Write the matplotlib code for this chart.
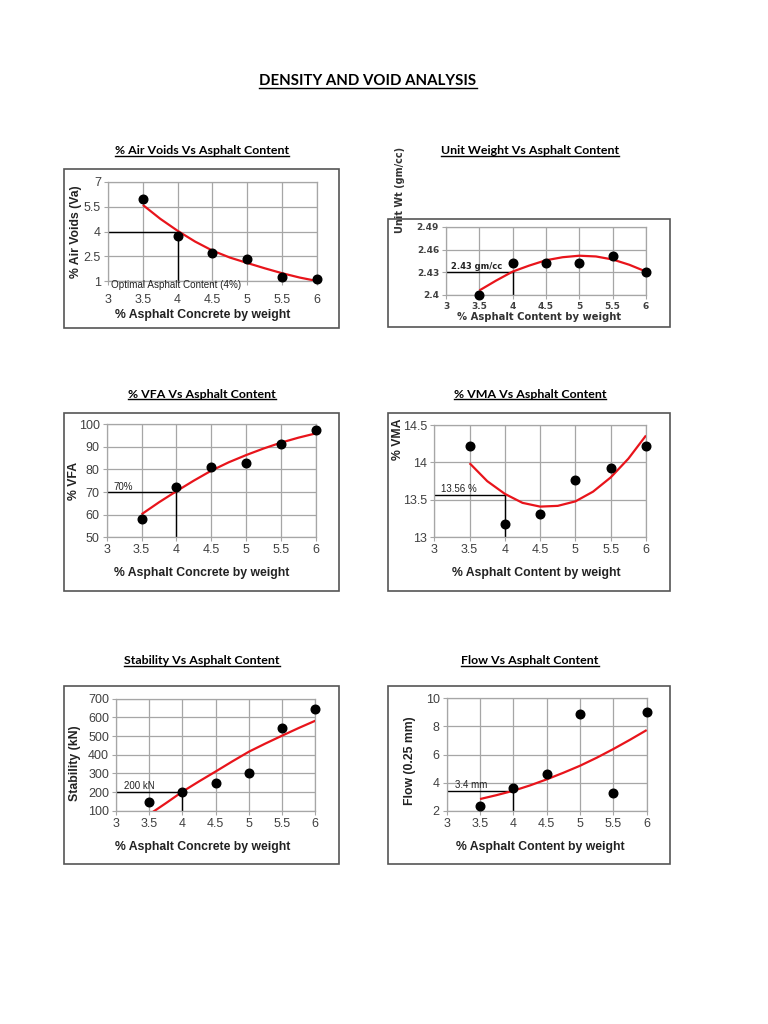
import numpy as np
import matplotlib
matplotlib.use("Agg")
import matplotlib.pyplot as plt
from matplotlib.patches import Rectangle
from matplotlib.lines import Line2D

# ---------------- data ----------------
asphalt = [3.5, 4.0, 4.5, 5.0, 5.5, 6.0]
curve_x = [3.5, 3.75, 4.0, 4.25, 4.5, 4.75, 5.0, 5.25, 5.5, 5.75, 6.0]

air_voids = [6.0, 3.7, 2.68, 2.33, 1.22, 1.1]
air_voids_fit = [5.61, 4.77, 4.04, 3.39, 2.84, 2.42, 2.09, 1.77, 1.47, 1.21, 1.00]

unit_wt = [2.400, 2.4425, 2.4425, 2.4425, 2.451, 2.430]
unit_wt_fit = [2.406, 2.419, 2.431, 2.439, 2.446, 2.450, 2.452, 2.451, 2.447, 2.440, 2.431]

vfa = [58.1, 72.1, 81.3, 83.0, 91.3, 97.3]
vfa_fit = [60.2, 65.5, 70.4, 75.1, 79.5, 83.2, 86.4, 89.3, 91.9, 94.1, 96.0]

vma = [14.22, 13.18, 13.31, 13.76, 13.93, 14.22]
vma_fit = [13.99, 13.75, 13.58, 13.46, 13.41, 13.42, 13.48, 13.61, 13.80, 14.05, 14.36]

stability = [148, 202, 250, 300, 541, 646]
stability_fit = [80, 140, 202, 257, 310, 364, 416, 460, 502, 543, 582]

flow = [2.36, 3.64, 4.61, 8.91, 3.28, 9.03]
flow_fit = [2.83, 3.11, 3.42, 3.80, 4.23, 4.70, 5.20, 5.77, 6.39, 7.05, 7.74]

x_ticks = [3, 3.5, 4, 4.5, 5, 5.5, 6]
x_ticklabels = ["3", "3.5", "4", "4.5", "5", "5.5", "6"]

opt_ac = 4.0
opt_air, opt_unit, opt_vfa, opt_vma, opt_stab, opt_flow = 4.0, 2.43, 70.0, 13.56, 200.0, 3.4

main_title = "DENSITY AND VOID ANALYSIS"

# ---------------- layout helpers ----------------
W, H = 768, 1024
fig = plt.figure(figsize=(W / 100, H / 100), dpi=100)
fig.patch.set_facecolor("white")


def ax_px(left, right, top, bottom):
    return fig.add_axes([left / W, 1 - bottom / H, (right - left) / W, (bottom - top) / H])


def box(left, right, top, bottom):
    fig.patches.append(Rectangle((left / W, 1 - bottom / H), (right - left) / W, (bottom - top) / H,
                                 transform=fig.transFigure, fill=False, edgecolor="#555555",
                                 linewidth=1.2, zorder=0))


def ftext(x, y, s, **kw):
    return fig.text(x / W, 1 - y / H, s, **kw)


GRID = "#a6a6a6"
TICKC = "#404040"
TF = "Liberation Sans"


def style(ax, ylim, yticks, yticklabels, fs=9, font=TF, bold=False, xpad=2):
    ax.set_xlim(3, 6)
    ax.set_ylim(*ylim)
    ax.set_xticks(x_ticks)
    ax.set_xticklabels(x_ticklabels)
    ax.set_yticks(yticks)
    ax.set_yticklabels(yticklabels)
    ax.grid(True, color=GRID, linewidth=0.9)
    ax.set_axisbelow(True)
    for s in ax.spines.values():
        s.set_color(GRID)
        s.set_linewidth(0.9)
    ax.tick_params(length=3, color=GRID, pad=2, labelsize=fs, labelcolor=TICKC)
    ax.tick_params(axis="x", pad=xpad)
    for lab in ax.get_xticklabels() + ax.get_yticklabels():
        lab.set_fontfamily(font)
        if bold:
            lab.set_fontweight("bold")


def draw(ax, y, yfit, ox, oy, ymin):
    ax.plot(curve_x, yfit, color="#e8141b", linewidth=1.6, zorder=3, solid_capstyle="butt",
            solid_joinstyle="round")
    ax.plot(asphalt, y, "o", color="black", markersize=6.2, zorder=4, clip_on=False)
    ax.plot([3, ox], [oy, oy], color="black", linewidth=1.0, zorder=2)
    ax.plot([ox, ox], [oy, ymin], color="black", linewidth=1.0, zorder=2)


titles = []
TITLEF = "Lato"
SUBFS = 8.9

# ---------------- main title ----------------
titles.append(ftext(368, 81, main_title, ha="center", va="center", fontsize=10.8,
                    fontweight="bold", family=TITLEF))

# ---------------- panel 1 : air voids ----------------
box(64, 339, 169, 328)
titles.append(ftext(202, 151, "% Air Voids Vs Asphalt Content", ha="center", va="center",
                    fontsize=SUBFS, fontweight="bold", family=TITLEF))
ax1 = ax_px(108, 317, 182, 281)
style(ax1, (1, 7), [1, 2.5, 4, 5.5, 7], ["1", "2.5", "4", "5.5", "7"], xpad=6.5)
draw(ax1, air_voids, air_voids_fit, opt_ac, opt_air, 1)
ax1.text(3.05, 0.74, "Optimal Asphalt Content (4%)", fontsize=7.1, family=TF, color="#222222",
         va="center", ha="left", clip_on=False, zorder=5)
ftext(76, 232, "% Air Voids (Va)", rotation=90, ha="center", va="center", fontsize=8.8,
      fontweight="bold", family=TF, color="#222222")
ftext(203, 315, "% Asphalt Concrete by weight", ha="center", va="center", fontsize=8.8,
      fontweight="bold", family=TF, color="#222222")

# ---------------- panel 2 : unit weight ----------------
box(388, 670, 219, 327)
titles.append(ftext(530, 151, "Unit Weight Vs Asphalt Content", ha="center", va="center",
                    fontsize=SUBFS, fontweight="bold", family=TITLEF))
ax2 = ax_px(446, 646, 227, 295)
style(ax2, (2.4, 2.49), [2.4, 2.43, 2.46, 2.49], ["2.4", "2.43", "2.46", "2.49"],
      fs=6.5, font="DejaVu Sans", bold=True)
draw(ax2, unit_wt, unit_wt_fit, opt_ac, opt_unit, 2.4)
ax2.text(3.07, 2.4377, "2.43 gm/cc", fontsize=6, family="DejaVu Sans", fontweight="bold",
         color="#222222", va="center", ha="left", zorder=5)
ftext(400, 190, "Unit Wt (gm/cc)", rotation=90, ha="center", va="center", fontsize=7,
      fontweight="bold", family="DejaVu Sans", color="#333333")
ftext(539, 317, "% Asphalt Content by weight", ha="center", va="center", fontsize=7.2,
      family="DejaVu Sans", fontweight="bold", color="#333333")

# ---------------- panel 3 : VFA ----------------
box(64, 339, 413, 591)
titles.append(ftext(202, 394, "% VFA Vs Asphalt Content", ha="center", va="center",
                    fontsize=SUBFS, fontweight="bold", family=TITLEF))
ax3 = ax_px(106.7, 316, 424.3, 537.3)
style(ax3, (50, 100), [50, 60, 70, 80, 90, 100], ["50", "60", "70", "80", "90", "100"])
draw(ax3, vfa, vfa_fit, opt_ac, opt_vfa, 50)
ax3.text(3.1, 72.4, "70%", fontsize=7, family=TF, color="#222222", va="center", ha="left", zorder=5)
ftext(74, 481, "% VFA", rotation=90, ha="center", va="center", fontsize=8.8,
      fontweight="bold", family=TF, color="#222222")
ftext(202, 573, "% Asphalt Concrete by weight", ha="center", va="center", fontsize=8.8,
      fontweight="bold", family=TF, color="#222222")

# ---------------- panel 4 : VMA ----------------
box(388, 670, 413, 591)
titles.append(ftext(530, 394, "% VMA Vs Asphalt Content", ha="center", va="center",
                    fontsize=SUBFS, fontweight="bold", family=TITLEF))
ax4 = ax_px(434.3, 646, 425, 537.3)
style(ax4, (13, 14.5), [13, 13.5, 14, 14.5], ["13", "13.5", "14", "14.5"])
draw(ax4, vma, vma_fit, opt_ac, opt_vma, 13)
ax4.text(3.1, 13.65, "13.56 %", fontsize=7, family=TF, color="#222222", va="center", ha="left", zorder=5)
ftext(398, 439, "% VMA", rotation=90, ha="center", va="center", fontsize=8.8,
      fontweight="bold", family=TF, color="#222222")
ftext(536, 573, "% Asphalt Content by weight", ha="center", va="center", fontsize=8.8,
      fontweight="bold", family=TF, color="#222222")

# ---------------- panel 5 : stability ----------------
box(64, 339, 686, 864)
titles.append(ftext(202, 661, "Stability Vs Asphalt Content", ha="center", va="center",
                    fontsize=SUBFS, fontweight="bold", family=TITLEF))
ax5 = ax_px(116, 315.3, 698.7, 810.7)
style(ax5, (100, 700), [100, 200, 300, 400, 500, 600, 700],
      ["100", "200", "300", "400", "500", "600", "700"])
draw(ax5, stability, stability_fit, opt_ac, opt_stab, 100)
ax5.text(3.12, 232, "200 kN", fontsize=7, family=TF, color="#222222", va="center", ha="left", zorder=5)
ftext(75, 763, "Stability (kN)", rotation=90, ha="center", va="center", fontsize=8.8,
      fontweight="bold", family=TF, color="#222222")
ftext(203, 847, "% Asphalt Concrete by weight", ha="center", va="center", fontsize=8.8,
      fontweight="bold", family=TF, color="#222222")

# ---------------- panel 6 : flow ----------------
box(388, 670, 686, 864)
titles.append(ftext(530, 661, "Flow Vs Asphalt Content", ha="center", va="center",
                    fontsize=SUBFS, fontweight="bold", family=TITLEF))
ax6 = ax_px(446.7, 646.7, 698.3, 810.7)
style(ax6, (2, 10), [2, 4, 6, 8, 10], ["2", "4", "6", "8", "10"])
draw(ax6, flow, flow_fit, opt_ac, opt_flow, 2)
ax6.text(3.12, 3.83, "3.4 mm", fontsize=7, family=TF, color="#222222", va="center", ha="left", zorder=5)
ftext(410, 761, "Flow (0.25 mm)", rotation=90, ha="center", va="center", fontsize=8.8,
      fontweight="bold", family=TF, color="#222222")
ftext(540, 847, "% Asphalt Content by weight", ha="center", va="center", fontsize=8.8,
      fontweight="bold", family=TF, color="#222222")

# ---------------- underline titles ----------------
fig.canvas.draw()
r = fig.canvas.get_renderer()
for t in titles:
    bb = t.get_window_extent(renderer=r)
    y = bb.y0 + 0.5
    fig.lines.append(Line2D([bb.x0 / W, bb.x1 / W], [y / H, y / H], transform=fig.transFigure,
                            color="black", linewidth=1.0))

fig.savefig("out.png", dpi=100, facecolor="white")
